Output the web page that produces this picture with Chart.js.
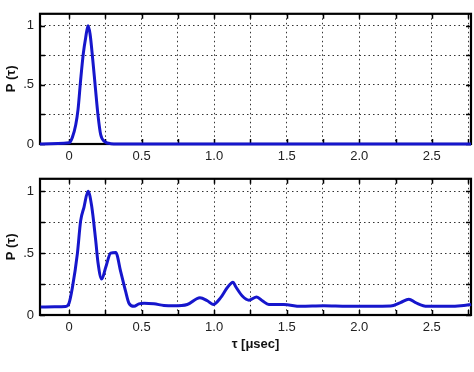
<!DOCTYPE html>
<html>
<head>
<meta charset="utf-8">
<script src="https://cdn.jsdelivr.net/npm/chart.js@4/dist/chart.umd.min.js"></script>
<style>
  html, body { margin: 0; padding: 0; background: #fff; }
  #wrap { position: relative; width: 474px; height: 372px; overflow: hidden; }
  canvas { position: absolute; left: 0; }
</style>
</head>
<body>
<div id="wrap">
  <canvas id="topChart" width="474" height="165" style="top:0"></canvas>
  <canvas id="bottomChart" width="474" height="207" style="top:165px"></canvas>
</div>
<script>
// data
const tauTop = [-0.2, 0.0, 0.023, 0.046, 0.062, 0.08, 0.099, 0.115, 0.131, 0.145, 0.163, 0.182, 0.2, 0.218, 0.246, 0.287, 0.4, 2.77];
const pTop   = [0, 0.01, 0.056, 0.16, 0.29, 0.54, 0.77, 0.9, 1.0, 0.93, 0.72, 0.47, 0.24, 0.08, 0.02, 0.003, 0, 0];

const tauBottom = [-0.195, -0.1, -0.023, 0.0, 0.023, 0.058, 0.08, 0.103, 0.131, 0.156, 0.184, 0.2, 0.225, 0.253, 0.287, 0.322, 0.356, 0.39, 0.413, 0.448, 0.482, 0.517, 0.585, 0.654, 0.723, 0.815, 0.902, 0.953, 0.994, 1.045, 1.09, 1.13, 1.148, 1.194, 1.24, 1.293, 1.332, 1.377, 1.48, 1.596, 1.756, 1.917, 2.078, 2.216, 2.284, 2.342, 2.388, 2.468, 2.606, 2.72, 2.771];
const pBottom   = [0.064, 0.067, 0.069, 0.095, 0.22, 0.5, 0.76, 0.87, 1.0, 0.88, 0.6, 0.42, 0.29, 0.385, 0.5, 0.505, 0.35, 0.19, 0.095, 0.07, 0.09, 0.095, 0.09, 0.077, 0.074, 0.085, 0.14, 0.115, 0.085, 0.14, 0.22, 0.264, 0.23, 0.154, 0.12, 0.146, 0.115, 0.085, 0.085, 0.07, 0.074, 0.07, 0.07, 0.072, 0.1, 0.128, 0.1, 0.07, 0.07, 0.077, 0.085];

const xRange = [-0.2, 2.77];
const yRange = [0, 1.1];
const gridStep = 0.25;
const xLabels = { '0': '0', '0.5': '0.5', '1': '1.0', '1.5': '1.5', '2': '2.0', '2.5': '2.5' };
const yLabels = { '0': '0', '0.5': '.5', '1': '1' };

const FONT = "'Liberation Sans', Arial, sans-serif";
const LINE = '#1616cc';

// frame + inward tick marks (matlab look)
const framePlugin = {
  id: 'frame',
  beforeDatasetsDraw(chart) {
    const { ctx, chartArea: a, scales } = chart;
    ctx.save();
    ctx.strokeStyle = '#000';
    ctx.lineWidth = 1.5;
    ctx.beginPath();
    scales.x.ticks.forEach(t => {
      const px = Math.round(scales.x.getPixelForValue(t.value)) + 0.5;
      ctx.moveTo(px, a.top); ctx.lineTo(px, a.top + 5);
      ctx.moveTo(px, a.bottom); ctx.lineTo(px, a.bottom - 5);
    });
    scales.y.ticks.forEach(t => {
      const py = Math.round(scales.y.getPixelForValue(t.value)) + 0.5;
      ctx.moveTo(a.left, py); ctx.lineTo(a.left + 5, py);
      ctx.moveTo(a.right, py); ctx.lineTo(a.right - 5, py);
    });
    ctx.stroke();
    ctx.lineWidth = 2.2;
    ctx.strokeRect(a.left, a.top, a.right - a.left, a.bottom - a.top);
    ctx.restore();
  }
};

function makeChart(id, xs, ys, opts) {
  const ctx = document.getElementById(id).getContext('2d');
  return new Chart(ctx, {
    type: 'line',
    data: {
      datasets: [{
        data: xs.map((x, i) => ({ x, y: ys[i] })),
        borderColor: LINE,
        borderWidth: 3,
        pointRadius: 0,
        cubicInterpolationMode: 'monotone',
        clip: false,
        fill: false
      }]
    },
    options: {
      responsive: false,
      animation: false,
      devicePixelRatio: 1,
      layout: { padding: { top: opts.top, right: 3, left: 0, bottom: 0 } },
      plugins: { legend: { display: false }, tooltip: { enabled: false } },
      scales: {
        x: {
          type: 'linear',
          min: xRange[0], max: xRange[1],
          afterFit: s => { s.height = opts.xHeight; },
          ticks: {
            stepSize: gridStep, includeBounds: false, autoSkip: false, maxRotation: 0,
            padding: 5, color: '#222', font: { family: FONT, size: 13 },
            callback: v => xLabels[String(+v.toFixed(2))] || ''
          },
          grid: { color: '#333', lineWidth: 1, drawTicks: false },
          border: { display: false, dash: [1.5, 3] },
          title: {
            display: !!opts.xTitle, text: opts.xTitle || '',
            color: '#111', font: { family: FONT, size: 13, weight: 'bold' },
            padding: { top: 0, bottom: 20 }
          }
        },
        y: {
          min: yRange[0], max: yRange[1],
          afterFit: s => { s.width = 40; },
          ticks: {
            stepSize: gridStep, includeBounds: false, autoSkip: false,
            padding: 6, color: '#222', font: { family: FONT, size: 13 },
            callback: v => yLabels[String(+v.toFixed(2))] || ''
          },
          grid: { color: '#333', lineWidth: 1, drawTicks: false },
          border: { display: false, dash: [1.5, 3] },
          title: {
            display: true, text: 'P (τ)',
            color: '#111', font: { family: FONT, size: 13, weight: 'bold' },
            padding: { top: 4, bottom: 0 }
          }
        }
      }
    },
    plugins: [framePlugin]
  });
}

makeChart('topChart', tauTop, pTop, { top: 1, xHeight: 21 });
makeChart('bottomChart', tauBottom, pBottom, { top: 8, xHeight: 57, xTitle: 'τ [μsec]' });
</script>
</body>
</html>
